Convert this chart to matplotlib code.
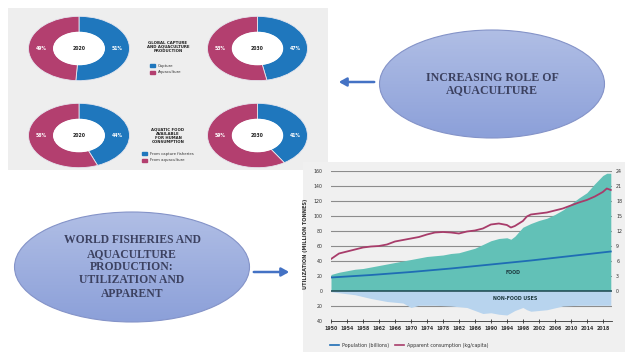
import numpy as np
import matplotlib
matplotlib.use("Agg")
import matplotlib.pyplot as plt
from matplotlib.patches import Ellipse, Rectangle
from matplotlib.colors import LinearSegmentedColormap

# ---- data --------------------------------------------------------------
donut_years = ["2020", "2030"]
production_capture = [51, 47]
production_aquaculture = [49, 53]
food_capture = [44, 41]
food_aquaculture = [56, 59]

food_years = [1950, 1952, 1954, 1956, 1958, 1960, 1962, 1964, 1966, 1968, 1970,
              1972, 1974, 1976, 1978, 1980, 1982, 1984, 1986, 1988, 1990, 1992,
              1994, 1995, 1996, 1998, 2000, 2002, 2004, 2006, 2008, 2010, 2012,
              2014, 2016, 2018, 2019, 2020]
food = [22, 25, 27, 29, 30, 32, 34, 36, 38, 40, 42, 44, 46, 47, 48, 50, 51,
        54, 57, 62, 67, 70, 71, 69, 73, 85, 90, 94, 97, 102, 108, 116, 124,
        131, 143, 154, 157, 157]

nonfood_years = [1950, 1953, 1956, 1960, 1964, 1968, 1970, 1972, 1976, 1980,
                 1984, 1986, 1988, 1990, 1992, 1994, 1996, 1998, 1999, 2000,
                 2004, 2008, 2012, 2016, 2020]
nonfood = [1, 3, 5, 10, 14, 16, 22, 19, 19, 20, 22, 26, 30, 29, 31, 32, 26,
           22, 25, 27, 25, 20, 19, 19, 19]

consumption_years = [1950, 1952, 1954, 1956, 1958, 1960, 1962, 1964, 1966,
                     1968, 1970, 1972, 1974, 1976, 1978, 1980, 1982, 1984,
                     1986, 1988, 1990, 1992, 1994, 1995, 1996, 1998, 1999,
                     2000, 2002, 2004, 2006, 2008, 2010, 2012, 2014, 2016,
                     2018, 2019, 2020]
consumption = [6.4, 7.5, 7.9, 8.3, 8.7, 8.9, 9.0, 9.3, 9.9, 10.2, 10.5, 10.8,
               11.3, 11.7, 11.8, 11.7, 11.5, 11.9, 12.1, 12.5, 13.3, 13.5,
               13.2, 12.7, 13.0, 14.0, 14.9, 15.3, 15.5, 15.7, 16.1, 16.5,
               17.1, 17.7, 18.2, 18.9, 19.8, 20.5, 20.2]

population_years = [1950, 1960, 1970, 1980, 1990, 2000, 2010, 2020]
population = [2.7, 3.2, 3.8, 4.5, 5.3, 6.1, 7.0, 7.9]

x_ticks = list(range(1950, 2019, 4))
left_ticks = [-40, -20, 0, 20, 40, 60, 80, 100, 120, 140, 160]
right_ticks = [0, 3, 6, 9, 12, 15, 18, 21, 24]

# ---- colours / helpers -------------------------------------------------
BLUE = "#1f77bd"
MAGENTA = "#b33f6f"
TEAL = "#62c1b7"
LIGHTBLUE = "#b8d4ee"
POP = "#1f6db4"
CONS = "#a83c6a"
BUBBLE_TXT = "#3c4160"
NARROW = ["Liberation Sans Narrow", "DejaVu Sans"]
SERIF = ["Liberation Serif", "DejaVu Serif"]

W, H = 638, 359


def box(x0, y0, x1, y1):
    return [x0 / W, 1 - y1 / H, (x1 - x0) / W, (y1 - y0) / H]


fig = plt.figure(figsize=(W / 100, H / 100), dpi=100)
fig.patch.set_facecolor("white")

# overlay in pixel coordinates
bg = fig.add_axes([0, 0, 1, 1])
bg.set_xlim(0, W)
bg.set_ylim(H, 0)
bg.axis("off")

bg.add_patch(Rectangle((8, 8), 320, 162, facecolor="#eeeeee", edgecolor="none"))
bg.add_patch(Rectangle((303, 162), 322, 190, facecolor="#f0f0f0", edgecolor="none"))

cmap_bubble = LinearSegmentedColormap.from_list("bubble", ["#b0bee5", "#8ca0d9"])


def bubble(cx, cy, w, h, text, size, spacing):
    e = Ellipse((cx, cy), w, h, facecolor="none", edgecolor="#8493c8", lw=0.8, zorder=3)
    bg.add_patch(e)
    grad = np.linspace(0, 1, 100).reshape(-1, 1)
    im = bg.imshow(grad, extent=[cx - w / 2, cx + w / 2, cy + h / 2, cy - h / 2],
                   cmap=cmap_bubble, aspect="auto", zorder=2)
    im.set_clip_path(e)
    bg.text(cx, cy, text, ha="center", va="center", fontsize=size, fontweight="bold",
            family=SERIF, color=BUBBLE_TXT, linespacing=spacing, zorder=4)


bubble(492, 84, 225, 108, "INCREASING ROLE OF\nAQUACULTURE", 8.6, 0.95)
bubble(132, 267, 235, 110,
       "WORLD FISHERIES AND\nAQUACULTURE\nPRODUCTION:\nUTILIZATION AND\nAPPARENT",
       8.4, 1.15)
bg.set_xlim(0, W)
bg.set_ylim(H, 0)

arrow = dict(arrowstyle="-|>,head_length=0.45,head_width=0.25", color="#4472c4", lw=1.8)
bg.annotate("", xy=(336, 82), xytext=(377, 82), arrowprops=arrow)
bg.annotate("", xy=(292, 272), xytext=(251, 272), arrowprops=arrow)

# donut captions and legends
bg.text(168, 47, "GLOBAL CAPTURE\nAND AQUACULTURE\nPRODUCTION", ha="center", va="center",
        fontsize=2.8, fontweight="bold", linespacing=1.1, color="#222222")
bg.add_patch(Rectangle((150, 64), 5, 3.2, color=BLUE))
bg.add_patch(Rectangle((150, 70.5), 5, 3.2, color=MAGENTA))
bg.text(158, 65.6, "Capture", va="center", fontsize=2.8, color="#333333")
bg.text(158, 72.1, "Aquaculture", va="center", fontsize=2.8, color="#333333")

bg.text(168, 136, "AQUATIC FOOD\nAVAILABLE\nFOR HUMAN\nCONSUMPTION", ha="center", va="center",
        fontsize=2.8, fontweight="bold", linespacing=1.1, color="#222222")
bg.add_patch(Rectangle((142, 152), 5, 3.2, color=BLUE))
bg.add_patch(Rectangle((142, 158.5), 5, 3.2, color=MAGENTA))
bg.text(150, 153.6, "From capture fisheries", va="center", fontsize=2.8, color="#333333")
bg.text(150, 160.1, "From aquaculture", va="center", fontsize=2.8, color="#333333")

# chart legend
bg.plot([330, 339], [345, 345], color=POP, lw=1.2)
bg.text(342, 345, "Population (billions)", va="center", fontsize=3.4, family=NARROW,
        color="#333333")
bg.plot([395, 404], [345, 345], color=CONS, lw=1.2)
bg.text(407, 345, "Apparent consumption (kg/capita)", va="center", fontsize=3.4,
        family=NARROW, color="#333333")
bg.text(306, 244, "UTILIZATION (MILLION TONNES)", rotation=90, ha="center", va="center",
        fontsize=3.6, fontweight="bold", family=NARROW, color="#333333")


# ---- donuts ------------------------------------------------------------
def donut(rect, blue_val, mag_val, year):
    ax = fig.add_axes(box(*rect))
    ax.pie([blue_val, mag_val], colors=[BLUE, MAGENTA], startangle=90,
           counterclock=False, radius=1.0,
           wedgeprops=dict(width=0.5, edgecolor="#e6e6ee", linewidth=0.6))
    ax.add_patch(plt.Circle((0, 0), 0.5, color="white", zorder=5))
    ax.set_aspect("auto")
    ax.set_xlim(-1.01, 1.01)
    ax.set_ylim(-1.01, 1.01)
    ax.text(0, 0, year, ha="center", va="center", fontsize=3.3, fontweight="bold",
            color="#222222", zorder=6)
    ax.text(0.75, 0, f"{blue_val}%", ha="center", va="center", fontsize=3.3,
            fontweight="bold", color="white")
    ax.text(-0.75, 0, f"{mag_val}%", ha="center", va="center", fontsize=3.3,
            fontweight="bold", color="white")


donut((28, 16, 130, 81), production_capture[0], production_aquaculture[0], donut_years[0])
donut((207, 16, 308, 81), production_capture[1], production_aquaculture[1], donut_years[1])
donut((28, 103, 130, 168), food_capture[0], food_aquaculture[0], donut_years[0])
donut((207, 103, 308, 168), food_capture[1], food_aquaculture[1], donut_years[1])

# ---- utilization chart -------------------------------------------------
ax = fig.add_axes(box(331, 171, 612, 321))
ax.patch.set_alpha(0)
ax.fill_between(food_years, 0, food, color=TEAL, lw=0, zorder=2)
ax.fill_between(nonfood_years, 0, [-v for v in nonfood], color=LIGHTBLUE, lw=0, zorder=2)
ax.axhline(0, color="#1d4650", lw=1.1, zorder=3)
for t in left_ticks[1:]:
    if t != 0:
        ax.axhline(t, color="#8c8c8c", lw=0.8, zorder=1)
ax.set_xlim(1950, 2020.3)
ax.set_ylim(-40, 160)
ax.set_xticks(x_ticks)
ax.set_xticklabels([str(t) for t in x_ticks], fontsize=3.4, family=NARROW,
                   fontweight="bold", color="#333333")
ax.set_yticks(left_ticks)
ax.set_yticklabels([str(abs(t)) for t in left_ticks], fontsize=3.4, family=NARROW,
                   color="#333333")
ax.tick_params(axis="x", length=3, width=0.6, direction="inout", pad=2, color="#333333")
ax.tick_params(axis="y", length=0, pad=6)
for s in ["top", "right", "left"]:
    ax.spines[s].set_visible(False)
ax.spines["bottom"].set_color("#333333")
ax.spines["bottom"].set_linewidth(0.6)
ax.text(1995.5, 24, "FOOD", ha="center", va="center", fontsize=3.4, family=NARROW,
        fontweight="bold", color="#1e3a40")
ax.text(1996, -10, "NON-FOOD USES", ha="center", va="center", fontsize=3.4,
        family=NARROW, fontweight="bold", color="#1e3a40")

ax2 = ax.twinx()
ax2.plot(population_years, population, color=POP, lw=1.3)
ax2.plot(consumption_years, consumption, color=CONS, lw=1.3)
ax2.set_ylim(-6, 24)
ax2.set_yticks(right_ticks)
ax2.set_yticklabels([str(t) for t in right_ticks], fontsize=3.4, family=NARROW,
                    color="#333333")
ax2.tick_params(axis="y", length=0, pad=3)
for s in ax2.spines.values():
    s.set_visible(False)

fig.savefig("out.png", dpi=100, facecolor="white")
